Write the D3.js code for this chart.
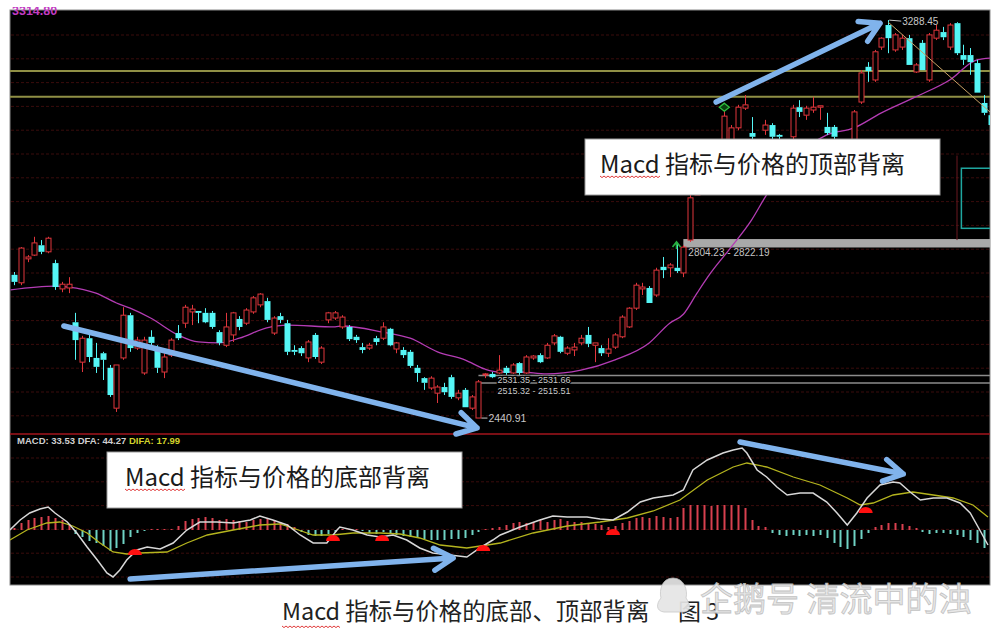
<!DOCTYPE html>
<html><head><meta charset="utf-8">
<script src="https://cdn.jsdelivr.net/npm/d3@7/dist/d3.min.js"></script>
<style>body{margin:0;background:#fff}svg{display:block}</style>
</head><body>
<svg id="c" width="1000" height="633"></svg>
<script>
// ---------- DATA ----------
// candles: [open, high, low, close] per trading day (index = day)
const candles = [
[2746,2752,2724,2731],[2729,2805,2724,2803],[2780,2788,2773,2784],[2788,2827,2786,2814],[2809,2820,2790,2795],
[2795,2827,2792,2824],[2771,2778,2714,2720],[2716,2731,2709,2726],[2718,2741,2707,2726],[2645,2665,2565,2607],
[2560,2616,2539,2611],[2611,2618,2560,2571],[2569,2601,2537,2550],[2579,2582,2522,2565],[2548,2554,2486,2490],
[2462,2554,2454,2554],[2569,2677,2565,2660],[2660,2665,2582,2590],[2590,2614,2586,2607],[2537,2614,2533,2607],
[2614,2628,2596,2601],[2592,2596,2537,2548],[2539,2579,2526,2571],[2575,2611,2571,2607],[2622,2639,2607,2611],
[2643,2682,2633,2677],[2667,2682,2639,2673],[2669,2669,2643,2665],[2665,2675,2643,2645],[2665,2669,2631,2635],
[2624,2628,2596,2601],[2596,2665,2592,2635],[2618,2667,2603,2665],[2652,2658,2628,2635],[2643,2675,2639,2671],
[2667,2701,2663,2697],[2682,2707,2677,2705],[2690,2697,2645,2650],[2622,2658,2618,2654],[2658,2665,2643,2650],
[2643,2650,2575,2582],[2586,2596,2575,2582],[2590,2594,2573,2579],[2569,2607,2560,2603],[2618,2622,2567,2571],
[2560,2594,2556,2590],[2650,2667,2643,2665],[2654,2669,2650,2665],[2635,2660,2631,2656],[2635,2639,2605,2609],
[2614,2618,2601,2607],[2592,2601,2579,2586],[2590,2601,2586,2596],[2611,2616,2596,2603],[2611,2645,2607,2635],
[2631,2633,2594,2596],[2588,2603,2579,2601],[2586,2592,2569,2575],[2582,2586,2548,2552],[2548,2554,2518,2537],
[2526,2528,2501,2516],[2505,2530,2501,2526],[2494,2511,2473,2507],[2507,2516,2490,2496],[2528,2533,2482,2486],
[2484,2501,2479,2494],[2501,2505,2464,2464],[2462,2490,2458,2486],[2441,2522,2440.91,2518],[2533,2537,2526,2535],
[2535,2539,2526,2528],[2537,2575,2535,2543],[2548,2552,2533,2537],[2537,2558,2535,2554],[2558,2560,2533,2537],
[2537,2575,2535,2571],[2569,2575,2565,2573],[2575,2579,2558,2560],[2569,2601,2567,2596],[2601,2620,2596,2616],
[2614,2616,2579,2582],[2579,2594,2575,2590],[2586,2601,2573,2592],[2601,2618,2596,2611],[2618,2635,2592,2599],
[2596,2601,2560,2601],[2590,2596,2573,2579],[2579,2611,2571,2588],[2592,2622,2588,2618],[2614,2660,2611,2656],
[2635,2677,2633,2675],[2675,2729,2671,2724],[2716,2729,2703,2720],[2718,2722,2686,2686],[2703,2761,2699,2756],
[2763,2784,2739,2756],[2761,2771,2741,2767],[2761,2814,2750,2754],[2750,2809,2741,2805],[2820,2916,2816,2910],
[2916,2960,2922,2950],[2945,2995,2930,2985],[2990,3000,2960,2970],[2975,3030,2965,3020],[3010,3103,3000,3084],
[3020,3065,3010,3059],[3059,3108,3054,3103],[3101,3129,3097,3108],[3048,3082,3033,3040],[3000,3030,2990,3020],
[3054,3076,3044,3065],[3065,3069,3035,3040],[3044,3046,3030,3040],[3020,3035,3010,3030],[3040,3108,3033,3101],
[3103,3118,3082,3093],[3086,3106,3076,3101],[3097,3125,3091,3103],[3103,3106,3076,3106],[3061,3091,3044,3048],
[3061,3065,3033,3040],[3010,3020,2985,3000],[3000,3035,2995,3030],[3000,3097,2995,3093],[3114,3182,3110,3176],
[3189,3199,3157,3180],[3161,3225,3157,3221],[3231,3252,3225,3250],[3278,3288.45,3218,3250],[3225,3261,3221,3257],
[3231,3257,3225,3250],[3250,3257,3193,3193],[3178,3197,3176,3193],[3240,3246,3182,3182],[3161,3261,3157,3257],
[3250,3278,3246,3267],[3263,3274,3246,3252],[3231,3282,3225,3278],[3282,3284,3214,3218],[3214,3236,3193,3204],
[3214,3229,3172,3199],[3197,3204,3134,3134],[3112,3129,3086,3091],[3086,3095,3060,3065]
];
const days = candles.map((d, i) => i);

// moving average of price: [day, price]
const maPoints = [[-0.5,2714],[6,2722],[8,2720],[12,2707],[15,2686],[17,2675],[20,2654],[24,2618],[27,2603],[30,2601],
[33,2611],[37,2633],[40,2639],[47,2635],[48,2637],[54,2624],[58,2611],[62,2582],[66,2565],[69,2545],[71,2539],[74,2539],
[78,2535],[83,2543],[88,2565],[93,2601],[96,2643],[98,2662],[100,2707],[102,2750],[105,2805],[108,2863],[110,2912],
[113,2976],[119,3044],[123,3059],[127,3091],[132,3125],[137,3161],[141,3204],[143.5,3208]];

// horizontal level lines (prices)
const levelLines = [3180, 3125];
const band = [2804.23, 2822.19];
const levelLabels = [
  {from:68, price:2531.5, text:"2531.35 - 2531.66", dy:7.5},
  {from:68, price:2515.4, text:"2515.32 - 2515.51", dy:10.5}
];
const lowLabel = {day:68, price:2440.91, text:"2440.91"};
const highLabel = {day:128, price:3288.45, text:"3288.45"};

// MACD histogram per day
const macdHist = [2,7,10,12,13,14,12,10,6,-4,-7,-11,-13,-16,-21,-18,-14,-7,-3,-1,1,1,1,1,4,9,11,12,13,12,10,11,10,9,8,10,11,12,10,8,
6,3,-2,-5,-6,-6,-4,-2,1,1,1,-1,-3,-4,-2,-4,-5,-6,-7,-8,-9,-10,-10,-10,-9,-9,-8,-5,-2,1,2,3,5,7,8,7,8,10,8,10,11,9,8,8,7,6,5,3,
4,7,9,12,13,12,14,13,12,13,22,25,25,25,24,25,25,25,25,22,10,4,3,-3,-5,-6,-5,-6,-5,-6,-5,-8,-13,-17,-19,-16,-9,-3,3,5,7,7,6,4,2,
-2,-4,-3,-3,-4,-5,-7,-10,-13,-18,-22];
// DIF (white) and DEA (yellow) lines: [day, value]
const difPoints = [[-0.6,0],[0.9,10],[2.3,17],[3.8,21],[5,23],[6,17],[7.8,8],[9.2,-3],[10.7,-17],[12.2,-30],[13.6,-43],[14.5,-47],
[15.5,-40],[16.5,-30],[18,-20],[19.5,-17],[21.4,-19],[23.3,-13],[25.3,0],[27.2,8],[29.7,8],[32.1,7],[34.6,10],[36,14],[37.9,10],
[40,5],[41.9,-5],[43.8,-13],[45.8,-13],[47.3,0],[47.7,3],[49.6,0],[51.7,-5],[53.6,-7],[55.5,-5],[57.5,-10],[59.4,-18],[61.3,-23],
[63.8,-25],[66.3,-27],[68.2,-18],[70.1,-10],[71.2,-5],[74.1,3],[77,10],[78.9,14],[81,13],[83.9,13],[85.8,11],[87.7,10],[89.8,18],
[91.7,28],[93.6,32],[96.5,35],[98,40],[99.4,60],[101.5,70],[103.8,77],[105.3,80],[106.6,82],[107.3,77],[108.8,60],[110.2,53],
[111.7,43],[113.2,35],[115.1,37],[117,37],[119,28],[120.5,17],[122,5],[123.4,17],[124.9,32],[126.8,45],[128.7,48],[129.7,47],
[131.2,38],[132.7,30],[134.6,32],[136.6,32],[138.5,27],[140,17],[141.4,0],[142.6,-15]];
const deaPoints = [[-0.6,-10],[1.9,0],[4.8,7],[6.7,8],[8.6,4],[10.7,-3],[12.6,-13],[14.5,-22],[16.5,-24],[18.4,-23],[22.4,-22],
[25.3,-13],[28.3,-5],[32.1,0],[36,5],[38.9,6],[40.8,2],[43.8,-5],[46.7,-5],[49.6,-3],[53.6,-3],[56.5,-4],[59.4,-8],[62.4,-15],
[66.3,-18],[69.3,-15],[71.2,-13],[76,-3],[81,4],[85.8,8],[89.8,12],[93.6,19],[97.5,30],[101.5,50],[105.3,63],[107.3,67],
[110.2,63],[114.1,53],[118,45],[122,32],[123.9,25],[125.8,27],[128.7,35],[131.6,38],[134.6,35],[137.5,32],[140.4,25],[142.6,13]];
const crossMarks = [[17.7,-22],[46.7,-8],[53.9,-8],[68.7,-18],[87.7,-2],[124.7,20]];

const arrows = [
  {panel:"price", from:[7.3,2637], to:[67.8,2420]},
  {panel:"price", from:[102.8,3114], to:[126.8,3282]},
  {panel:"macd", from:[17.0,-49], to:[64.3,-28]},
  {panel:"macd", from:[106.3,88], to:[130.2,56]}
];
const boxTop = "Macd 指标与价格的顶部背离";
const boxBottom = "Macd 指标与价格的底部背离";
const caption = "Macd 指标与价格的底部、顶部背离";
const captionTail = "图 3";
const watermark = "企鹅号 清流中的浊";
const macdLabel = ["MACD: 33.53 DFA: 44.27 ", "DIFA: 17.99"];

// ---------- CHART ----------
const svg = d3.select("#c");
const FONT = "'Noto Sans CJK SC','Noto Sans',sans-serif";
const x = d3.scaleLinear().domain([0, 143]).range([14, 990.7]);
const yP = d3.scaleLinear().domain([2407, 3310]).range([434, 10]);
const yM = d3.scaleLinear().domain([-55, 96]).range([585, 434]);

svg.append("rect").attr("width",1000).attr("height",633).attr("fill","#fff");
const defs = svg.append("defs");
defs.append("clipPath").attr("id","cp").append("rect").attr("x",10).attr("y",10).attr("width",980).attr("height",424);
defs.append("clipPath").attr("id","cm").append("rect").attr("x",10).attr("y",435).attr("width",980).attr("height",150);
defs.append("clipPath").attr("id","ctop").append("rect").attr("x",0).attr("y",7).attr("width",1000).attr("height",20);

svg.append("rect").attr("x",10).attr("y",10).attr("width",980).attr("height",575)
  .attr("fill","#000").attr("stroke","#8a8a8a").attr("stroke-width",1);

// faint grid
const gridY = d3.range(35, 430, 23.8).concat(d3.range(458, 584, 23.8));
svg.append("g").selectAll("line").data(gridY).join("line")
  .attr("x1",11).attr("x2",989).attr("y1",d=>d).attr("y2",d=>d)
  .attr("stroke","#3a0c0c").attr("stroke-width",1).attr("stroke-dasharray","3,2");

svg.append("text").attr("x",12).attr("y",15).attr("clip-path","url(#ctop)")
  .attr("font-family","Liberation Sans").attr("font-size",12.5).attr("font-weight","bold")
  .attr("fill","#c23cc2").text("3314.80");

const gp = svg.append("g").attr("clip-path","url(#cp)");

// level lines
gp.selectAll(".lvl").data(levelLines).join("line").attr("class","lvl")
  .attr("x1",10).attr("x2",990).attr("y1",d=>yP(d)).attr("y2",d=>yP(d))
  .attr("stroke","#8f8f45").attr("stroke-width",2);

// band
gp.append("rect").attr("x",x(98)).attr("width",990-x(98))
  .attr("y",yP(band[1])).attr("height",yP(band[0])-yP(band[1])).attr("fill","#a9a9a9");
gp.append("text").attr("x",x(98)+5).attr("y",yP(band[0])+9)
  .attr("font-family","Liberation Sans").attr("font-size",10).attr("fill","#c4c4c4")
  .text(band[0].toFixed(2)+" - "+band[1].toFixed(2));

// level label lines
gp.selectAll(".ll").data(levelLabels).join("line").attr("class","ll")
  .attr("x1",d=>x(d.from)).attr("x2",990).attr("y1",d=>yP(d.price)).attr("y2",d=>yP(d.price))
  .attr("stroke","#8c8c8c").attr("stroke-width",1.5);

// MA line
gp.append("path").datum(maPoints)
  .attr("d", d3.line().x(d=>x(d[0])).y(d=>yP(d[1])).curve(d3.curveMonotoneX))
  .attr("fill","none").attr("stroke","#b43cb4").attr("stroke-width",1.3);

// candles
const UP = "#e0363c", DN = "#55f6f6";
const cg = gp.append("g");
const bw = 5;
candles.forEach((d, i) => {
  const [o,h,l,c] = d;
  const up = c >= o;
  const col = up ? UP : DN;
  const cx = Math.round(x(i)) + 0.5;
  const top = yP(Math.max(o,c)), bot = yP(Math.min(o,c));
  cg.append("line").attr("x1",cx).attr("x2",cx).attr("y1",yP(h)).attr("y2",top).attr("stroke",col);
  cg.append("line").attr("x1",cx).attr("x2",cx).attr("y1",bot).attr("y2",yP(l)).attr("stroke",col);
  if (up) {
    cg.append("rect").attr("x",cx-bw/2).attr("y",top).attr("width",bw).attr("height",Math.max(1,bot-top))
      .attr("fill","#000").attr("stroke",col).attr("stroke-width",1);
  } else {
    cg.append("rect").attr("x",cx-bw/2-0.5).attr("y",top).attr("width",bw+1).attr("height",Math.max(1.5,bot-top))
      .attr("fill",col);
  }
});

// level label texts (masked by black outline)
gp.selectAll(".lt").data(levelLabels).join("text").attr("class","lt")
  .attr("x",d=>x(d.from)+19).attr("y",d=>yP(d.price)+d.dy)
  .attr("font-family","Liberation Sans").attr("font-size",9).attr("fill","#c8c8c8")
  .attr("stroke","#000").attr("stroke-width",2.5).attr("paint-order","stroke")
  .text(d=>d.text);

// low / high labels
gp.append("line").attr("x1",x(lowLabel.day)+3).attr("x2",x(lowLabel.day)+9)
  .attr("y1",yP(lowLabel.price)).attr("y2",yP(lowLabel.price)).attr("stroke","#c8c8c8");
gp.append("text").attr("x",x(lowLabel.day)+10).attr("y",yP(lowLabel.price)+4)
  .attr("font-family","Liberation Sans").attr("font-size",10.5).attr("fill","#c8c8c8").text(lowLabel.text);
gp.append("line").attr("x1",x(highLabel.day)+1).attr("x2",x(highLabel.day)+13)
  .attr("y1",yP(highLabel.price)).attr("y2",yP(highLabel.price)+1).attr("stroke","#c8c8c8");
gp.append("text").attr("x",x(highLabel.day)+14).attr("y",yP(highLabel.price)+5)
  .attr("font-family","Liberation Sans").attr("font-size",10).attr("fill","#c8c8c8").text(highLabel.text);

// diagonal trend line from the top
gp.append("line").attr("x1",x(128)).attr("y1",yP(3284)).attr("x2",x(143.5)).attr("y2",yP(3085))
  .attr("stroke","#c9a266").attr("stroke-width",1);

// markers: green up arrow & diamond
{
  const ax = x(97), ay = yP(candles[97][1]);
  gp.append("path").attr("d",`M${ax-4},${ay+4} L${ax},${ay-1} L${ax+4},${ay+4} M${ax},${ay-1} L${ax},${ay+6}`)
    .attr("fill","none").attr("stroke","#28b040").attr("stroke-width",1.6);
  const dx = x(104), dy = yP(candles[104][1]);
  gp.append("path").attr("d",`M${dx},${dy-4} L${dx+5},${dy} L${dx},${dy+4} L${dx-5},${dy} Z`)
    .attr("fill","#0a4010").attr("stroke","#2fc040").attr("stroke-width",1.3);
}

// teal rectangle at right
gp.append("line").attr("x1",957).attr("x2",957).attr("y1",yP(3000)).attr("y2",yP(2820)).attr("stroke","#6a1820");
gp.append("rect").attr("x",x(139)-2).attr("y",yP(2973)).attr("width",30).attr("height",yP(2845)-yP(2973))
  .attr("fill","none").attr("stroke","#1fa7a0").attr("stroke-width",1.5);

// separator
svg.append("line").attr("x1",10).attr("x2",990).attr("y1",434).attr("y2",434).attr("stroke","#a3141c").attr("stroke-width",1.6);

// MACD panel
const gm = svg.append("g").attr("clip-path","url(#cm)");
gm.selectAll(".hb").data(macdHist).join("line").attr("class","hb")
  .attr("x1",(d,i)=>Math.round(x(i))+0.5).attr("x2",(d,i)=>Math.round(x(i))+0.5)
  .attr("y1",yM(0)).attr("y2",d=>yM(d))
  .attr("stroke",d=>d>=0?"#d8404f":"#6fd3c4").attr("stroke-width",2);
const ml = d3.line().x(d=>x(d[0])).y(d=>yM(d[1]));
gm.append("path").datum(deaPoints).attr("d",ml).attr("fill","none").attr("stroke","#b4b41e").attr("stroke-width",1.3);
gm.append("path").datum(difPoints).attr("d",ml).attr("fill","none").attr("stroke","#d8d8d8").attr("stroke-width",1.5);
gm.selectAll(".cm").data(crossMarks).join("path").attr("class","cm")
  .attr("d",d=>{const cx=x(d[0]), cy=yM(d[1]); return `M${cx-7},${cy+3} A7,6 0 0 1 ${cx+7},${cy+3} Z`;})
  .attr("fill","#ff1010");

const lab = svg.append("text").attr("x",17).attr("y",444)
  .attr("font-family","Liberation Sans").attr("font-size",9.5).attr("font-weight","bold");
lab.append("tspan").attr("fill","#cfcfcf").text(macdLabel[0]);
lab.append("tspan").attr("fill","#d2d22a").text(macdLabel[1]);

// arrows
const ARROW = "#80b3ec";
arrows.forEach(a => {
  const ys = a.panel === "price" ? yP : yM;
  const x1 = x(a.from[0]), y1 = ys(a.from[1]), x2 = x(a.to[0]), y2 = ys(a.to[1]);
  const ang = Math.atan2(y2-y1, x2-x1) + Math.PI;
  const L = 22, s = Math.PI/6;
  const w1 = [x2 + L*Math.cos(ang-s), y2 + L*Math.sin(ang-s)];
  const w2 = [x2 + L*Math.cos(ang+s), y2 + L*Math.sin(ang+s)];
  svg.append("path").attr("d",`M${x1},${y1} L${x2},${y2} M${w1[0]},${w1[1]} L${x2},${y2} L${w2[0]},${w2[1]}`)
    .attr("fill","none").attr("stroke",ARROW).attr("stroke-width",5.5)
    .attr("stroke-linecap","round").attr("stroke-linejoin","round");
});

// wavy underline helper
function wavy(x0, x1, y) {
  let d = `M${x0},${y}`; let k = 0;
  for (let xx = x0 + 2; xx <= x1; xx += 2) { k++; d += ` L${xx},${y + (k % 2 ? 1.6 : 0)}`; }
  return d;
}
function textBox(bx, by, txt, tx, ty) {
  svg.append("rect").attr("x",bx).attr("y",by).attr("width",355).attr("height",56)
    .attr("fill","#fff").attr("stroke","#9a9a9a").attr("stroke-width",1);
  svg.append("text").attr("x",tx).attr("y",ty).attr("font-family",FONT)
    .attr("font-size",24).attr("fill","#1a1a1a").text(txt);
  svg.append("path").attr("d",wavy(tx, tx+60, ty+3)).attr("fill","none").attr("stroke","#e03a3a").attr("stroke-width",1);
}
textBox(585, 139, boxTop, 600, 173);
textBox(107, 452, boxBottom, 125, 486);

// caption
svg.append("text").attr("x",282).attr("y",620).attr("font-family",FONT).attr("font-size",23.4)
  .attr("fill","#222").text(caption);
svg.append("text").attr("x",678).attr("y",620).attr("font-family",FONT).attr("font-size",23)
  .attr("fill","#222").text(captionTail);
svg.append("path").attr("d",wavy(282, 340, 626)).attr("fill","none").attr("stroke","#e03a3a").attr("stroke-width",1);

// watermark
const wm = svg.append("g").attr("opacity",0.92);
wm.append("path").attr("d","M673,578 C662,578 659,590 661,598 C656,604 656,611 664,612 L684,612 C692,611 690,604 686,598 C688,590 684,578 673,578 Z")
  .attr("fill","#e6e6e6").attr("stroke","#c4c4c4").attr("stroke-width",0.8);
wm.append("text").attr("x",700).attr("y",611).attr("font-family",FONT).attr("font-size",33)
  .attr("fill","#e6e6e6").attr("stroke","#bdbdbd").attr("stroke-width",0.8).text(watermark);
</script>
</body></html>
